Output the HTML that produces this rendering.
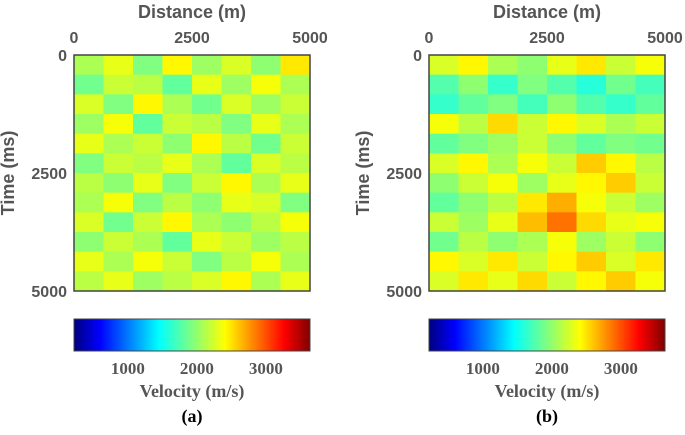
<!DOCTYPE html>
<html><head><meta charset="utf-8">
<style>
body{margin:0;background:#fff;}
svg text{font-family:"Liberation Sans",sans-serif;fill:#555;font-weight:bold;}
svg text.serif{font-family:"Liberation Serif",serif;}
</style></head>
<body>
<svg id="fig" width="685" height="430" viewBox="0 0 685 430" xmlns="http://www.w3.org/2000/svg">
<defs>
<linearGradient id="jet" x1="0" x2="1" y1="0" y2="0">
<stop offset="0" stop-color="#00007f"/><stop offset="0.11" stop-color="#0000ff"/>
<stop offset="0.36" stop-color="#00ffff"/><stop offset="0.5" stop-color="#7fff7f"/>
<stop offset="0.64" stop-color="#ffff00"/><stop offset="0.89" stop-color="#ff0000"/>
<stop offset="1" stop-color="#7f0000"/></linearGradient>
</defs>
<g id="pa"></g>
<g id="pb"></g>
</svg>
<script>
const distTicks=[0,2500,5000];
const timeTicks=[0,2500,5000];
const cbTicks=[1000,2000,3000];
const vMin=220, vMax=3640;
const gridA=[
[2080,2280,1930,2380,2030,2230,1980,2430],
[1880,2180,2130,1830,2280,2030,2330,2080],
[2230,1930,2380,2080,1880,2230,2030,2180],
[2030,2330,1830,2180,2130,1930,2280,2080],
[2280,2080,2180,1980,2380,2130,1880,2180],
[1930,2180,2130,2280,2080,1830,2230,2130],
[2130,1980,2280,1930,2180,2380,2080,2280],
[2080,2330,1930,2130,1980,2280,2230,1930],
[2230,1880,2180,2380,2080,1980,2130,2330],
[1980,2180,2080,1830,2280,2180,2030,2130],
[2280,2080,2330,2180,1930,2130,2330,2080],
[2130,2280,2030,2130,2230,2380,2080,2280]];
const gridB=[
[2230,2380,2080,1980,2280,2430,2180,2330],
[1780,1980,1680,1930,1780,1630,1880,1730],
[1680,1830,1930,1730,1980,1780,1680,1830],
[2330,2130,2480,2180,2380,2230,2080,2180],
[1830,1930,2030,2180,1980,1830,1930,1880],
[2230,2380,2080,2330,2180,2530,2380,2130],
[1980,2180,2330,2030,2280,2380,2530,2180],
[1830,1980,2130,2430,2630,2330,2180,2030],
[2180,2030,2280,2580,2830,2480,2280,2330],
[1880,2130,1980,2080,2330,2030,2180,1980],
[2380,2230,2430,2180,2380,2530,2230,2430],
[2230,2430,2280,2480,2180,2380,2530,2330]];
const NS="http://www.w3.org/2000/svg";
function jet(v){let t=(v-vMin)/(vMax-vMin);t=Math.max(0,Math.min(1,t));
 const f=x=>Math.max(0,Math.min(1,1.5-Math.abs(4*t-x)));
 return `rgb(${Math.round(255*f(3))},${Math.round(255*f(2))},${Math.round(255*f(1))})`;}
function mk(tag,attrs,parent,text){const e=document.createElementNS(NS,tag);for(const k in attrs)e.setAttribute(k,attrs[k]);if(text!==undefined)e.textContent=text;parent.appendChild(e);return e;}
function panel(g,x0,grid,label){
 const y0=55,W=236,H=236;
 const xs=d=>x0+d/5000*W, ys=d=>y0+d/5000*H;
 const rows=grid.length, cols=grid[0].length, cw=W/cols, ch=H/rows;
 grid.forEach((row,r)=>row.forEach((v,c)=>{
  const e=mk('rect',{x:x0+c*cw,y:y0+r*ch,width:cw+0.5,height:ch+0.5,fill:jet(v)},g);
  
  
 }));
 const fr=mk('rect',{x:x0,y:y0,width:W,height:H,fill:'none',stroke:'#444','stroke-width':1.5},g);
 
 distTicks.forEach(d=>{const t=mk('text',{x:xs(d),y:43,'text-anchor':'middle','font-size':16},g,d);
  });
 timeTicks.forEach(d=>{const t=mk('text',{x:x0-7,y:ys(d)+6,'text-anchor':'end','font-size':16},g,d);
  });
 const xt=mk('text',{x:x0+W/2,y:18,'text-anchor':'middle','font-size':18},g,'Distance (m)');
 
 const yt=mk('text',{x:0,y:0,'text-anchor':'middle','font-size':18,transform:`translate(${x0-60},${y0+H/2}) rotate(-90)`},g,'Time (ms)');
 
 const cb=mk('rect',{x:x0,y:319,width:W,height:32,fill:'url(#jet)',stroke:'#444','stroke-width':1},g);
 
 cbTicks.forEach(v=>{const t=mk('text',{class:'serif',x:x0+(v-vMin)/(vMax-vMin)*W,y:374,'text-anchor':'middle','font-size':17},g,v);
  });
 const ct=mk('text',{class:'serif',x:x0+W/2,y:397,'text-anchor':'middle','font-size':18},g,'Velocity (m/s)');
 
 const pl=mk('text',{class:'serif',x:x0+W/2,y:422,'text-anchor':'middle','font-size':18,style:'fill:#000'},g,label);
 
}
panel(document.getElementById('pa'),74,gridA,'(a)');
panel(document.getElementById('pb'),429,gridB,'(b)');
</script>
</body></html>
